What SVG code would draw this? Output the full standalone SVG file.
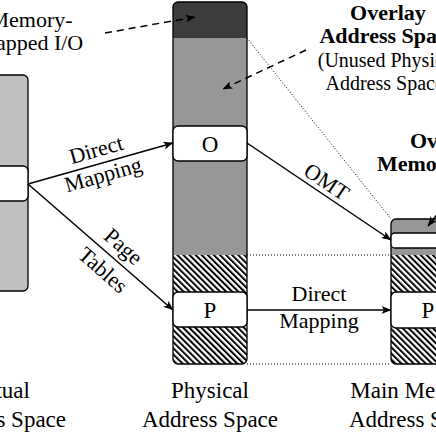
<svg xmlns="http://www.w3.org/2000/svg" width="436" height="436" viewBox="0 0 436 436">
<defs>
  <pattern id="hatch" patternUnits="userSpaceOnUse" width="4.3" height="4.3" patternTransform="rotate(-45)">
    <rect width="4.3" height="4.3" fill="#fff"/>
    <line x1="1" y1="-1" x2="1" y2="6" stroke="#000" stroke-width="2"/>
  </pattern>
  <marker id="arr" viewBox="0 0 10 8" refX="9.5" refY="4" markerWidth="10" markerHeight="8" markerUnits="userSpaceOnUse" orient="auto">
    <path d="M0,0 L10,4 L0,8 L2.5,4 z" fill="#000"/>
  </marker>
  <clipPath id="cpPhys"><rect x="173" y="2" width="74" height="362" rx="5"/></clipPath>
  <clipPath id="cpMain"><rect x="391" y="219" width="74" height="145" rx="5"/></clipPath>
</defs>
<style>
  text { font-family: "Liberation Serif", "DejaVu Serif", serif; fill: #000; }
  .lbl { font-size: 22px; text-anchor: middle; }
  .ax { font-size: 23px; text-anchor: middle; }
  .box { fill: #fff; stroke: #000; stroke-width: 1.3; }
  .frame { fill: none; stroke: #000; stroke-width: 1.3; }
  .conn { stroke: #000; stroke-width: 1.5; fill: none; }
  .dash { stroke: #000; stroke-width: 1.5; fill: none; stroke-dasharray: 7 5; }
  .dot { stroke: #000; stroke-width: 1; fill: none; stroke-dasharray: 1 2; }
  .bold { font-weight: bold; font-size: 22px; }
  .reg { font-size: 20px; }
</style>

<g id="virtual">
  <rect x="-50" y="75" width="78" height="216" rx="5" fill="#c0c0c0" stroke="#000" stroke-width="1.3"/>
  <rect class="box" x="-50" y="166" width="78" height="35" rx="5"/>
  <text class="ax" x="-2" y="398">Virtual</text>
  <text class="ax" x="-2" y="427">Address Space</text>
</g>

<g id="physical">
  <g clip-path="url(#cpPhys)">
    <rect x="173" y="2" width="74" height="36" fill="#3c3c3c"/>
    <rect x="173" y="38" width="74" height="217" fill="#979797"/>
    <rect x="173" y="255" width="74" height="109" fill="url(#hatch)"/>
  </g>
  <rect class="frame" x="173" y="2" width="74" height="362" rx="5"/>
  <g id="boxO">
    <rect class="box" x="173" y="126" width="74" height="35" rx="5"/>
    <text class="ax" x="210" y="152">O</text>
  </g>
  <g id="boxP">
    <rect class="box" x="173" y="292" width="74" height="35" rx="5"/>
    <text class="ax" x="210" y="318">P</text>
  </g>
  <text class="ax" x="210" y="398">Physical</text>
  <text class="ax" x="210" y="427">Address Space</text>
</g>

<g id="mainmem">
  <g clip-path="url(#cpMain)">
    <rect x="391" y="219" width="74" height="36" fill="#979797"/>
    <rect x="391" y="255" width="74" height="109" fill="url(#hatch)"/>
  </g>
  <rect class="frame" x="391" y="219" width="74" height="145" rx="5"/>
  <rect class="box" x="391" y="233" width="74" height="15" rx="4"/>
  <g id="boxP2">
    <rect class="box" x="391" y="292" width="74" height="36" rx="5"/>
    <text class="ax" x="428" y="318">P</text>
  </g>
  <text class="ax" x="417" y="398">Main Memory</text>
  <text class="ax" x="417" y="427">Address Space</text>
</g>

<g id="mmio-label">
  <text class="lbl" x="31" y="27">Memory-</text>
  <text class="lbl" x="31" y="50">mapped I/O</text>
</g>

<g id="overlay-as-label">
  <text class="bold" x="388" y="20" text-anchor="middle">Overlay</text>
  <text class="bold" x="388" y="43" text-anchor="middle">Address Space</text>
  <text class="reg" x="388" y="67" text-anchor="middle">(Unused Physical</text>
  <text class="reg" x="388" y="90" text-anchor="middle">Address Space)</text>
</g>

<g id="overlay-mem-label">
  <text class="bold" x="410" y="148">Overlay</text>
  <text class="bold" x="377" y="171">Memory Store</text>
</g>

<g id="connectors">
  <line class="dot" x1="247" y1="38" x2="391" y2="219"/>
  <line class="dot" x1="247" y1="255" x2="391" y2="255"/>
  <line class="dot" x1="247" y1="364" x2="391" y2="364"/>

  <line class="conn" x1="28" y1="184" x2="173" y2="143" marker-end="url(#arr)"/>
  <g transform="translate(100,163.5) rotate(-15.8)">
    <text class="lbl" x="0" y="-7">Direct</text>
    <text class="lbl" x="0" y="19">Mapping</text>
  </g>

  <line class="conn" x1="28" y1="184" x2="173" y2="310" marker-end="url(#arr)"/>
  <g transform="translate(100.5,247) rotate(41)">
    <text class="lbl" x="17" y="-8">Page</text>
    <text class="lbl" x="17" y="23">Tables</text>
  </g>

  <line class="conn" x1="247" y1="143" x2="391" y2="240" marker-end="url(#arr)"/>
  <g transform="translate(319,191.5) rotate(34)">
    <text class="lbl" x="1" y="-5">OMT</text>
  </g>

  <line class="conn" x1="247" y1="310" x2="391" y2="310" marker-end="url(#arr)"/>
  <text class="lbl" x="319" y="301">Direct</text>
  <text class="lbl" x="319" y="328">Mapping</text>

  <line class="dash" x1="105" y1="33" x2="195" y2="17" marker-end="url(#arr)"/>
  <line class="dash" x1="306" y1="50" x2="223" y2="89" marker-end="url(#arr)"/>
  <line class="conn" x1="442" y1="208" x2="428" y2="226" marker-end="url(#arr)"/>
</g>
</svg>
